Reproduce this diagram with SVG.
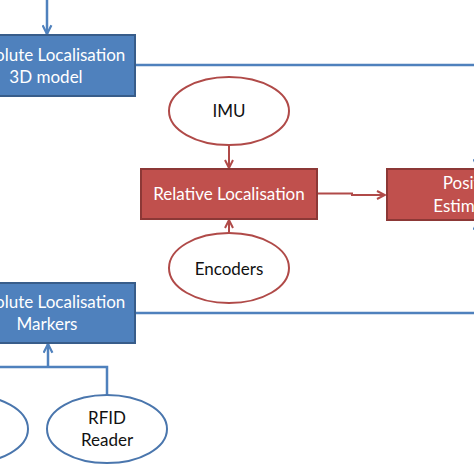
<svg xmlns="http://www.w3.org/2000/svg" width="474" height="474" viewBox="0 0 474 474">
<style>
.bbox{fill:#4f81bd;stroke:#385d8a;stroke-width:2}
.rbox{fill:#c0504d;stroke:#8c3836;stroke-width:2}
.rell{fill:#fff;stroke:#b04a48;stroke-width:2}
.bell{fill:#fff;stroke:#4a76ad;stroke-width:2}
.wt{font-family:Lato,"Open Sans",sans-serif;font-size:17px;fill:#fff;text-anchor:middle}
.kt{font-family:Lato,"Open Sans",sans-serif;font-size:17px;fill:#111;text-anchor:middle}
.bl{fill:none;stroke:#4f81bd;stroke-width:2.5}
.rl{fill:none;stroke:#b04a48;stroke-width:2}
</style>
<defs>
<marker id="ab" viewBox="0 0 10 10" refX="9" refY="5" markerWidth="4.4" markerHeight="4.4" orient="auto" markerUnits="strokeWidth">
<path d="M1,1 L9,5 L1,9" fill="none" stroke="#4f81bd" stroke-width="2"/>
</marker>
<marker id="ar" viewBox="0 0 10 10" refX="9" refY="5" markerWidth="5" markerHeight="5" orient="auto" markerUnits="strokeWidth">
<path d="M1,1 L9,5 L1,9" fill="none" stroke="#b04a48" stroke-width="2"/>
</marker>
</defs>
<rect width="474" height="474" fill="#fff"/>
<g id="connectors">
<path class="bl" d="M47,0 V34" marker-end="url(#ab)"/>
<path class="bl" d="M135,65 H478 V168" marker-end="url(#ab)"/>
<path class="bl" d="M135,313 H478 V221" marker-end="url(#ab)"/>
<path class="rl" d="M229,145 V168" marker-end="url(#ar)"/>
<path class="rl" d="M229,233 V220" marker-end="url(#ar)"/>
<path class="rl" d="M317,193.5 H352 V195 H385" marker-end="url(#ar)"/>
<path class="bl" d="M48,367 V344" marker-end="url(#ab)"/>
<path class="bl" d="M0,367 H107 V395"/>
</g>
<g id="abs3d">
<rect class="bbox" x="-43" y="35" width="178" height="61"/>
<text class="wt" x="46" y="61">Absolute Localisation</text>
<text class="wt" x="46" y="83">3D model</text>
</g>
<g id="imu">
<ellipse class="rell" cx="229" cy="111" rx="60" ry="34"/>
<text class="kt" x="229" y="117">IMU</text>
</g>
<g id="relative">
<rect class="rbox" x="141" y="169" width="176" height="50"/>
<text class="wt" x="229" y="200">Relative Localisation</text>
</g>
<g id="encoders">
<ellipse class="rell" cx="229" cy="268" rx="60" ry="35"/>
<text class="kt" x="229" y="275">Encoders</text>
</g>
<g id="position">
<rect class="rbox" x="387" y="169" width="172" height="51"/>
<text class="wt" x="473" y="189">Position</text>
<text class="wt" x="473" y="212">Estimation</text>
</g>
<g id="absmarkers">
<rect class="bbox" x="-43" y="283" width="178" height="60"/>
<text class="wt" x="46" y="308">Absolute Localisation</text>
<text class="wt" x="47" y="330">Markers</text>
</g>
<g id="leftsensor">
<ellipse class="bell" cx="-32" cy="429" rx="60" ry="34"/>
</g>
<g id="rfid">
<ellipse class="bell" cx="107" cy="429" rx="60" ry="34"/>
<text class="kt" x="107" y="424">RFID</text>
<text class="kt" x="107" y="446">Reader</text>
</g>
</svg>
